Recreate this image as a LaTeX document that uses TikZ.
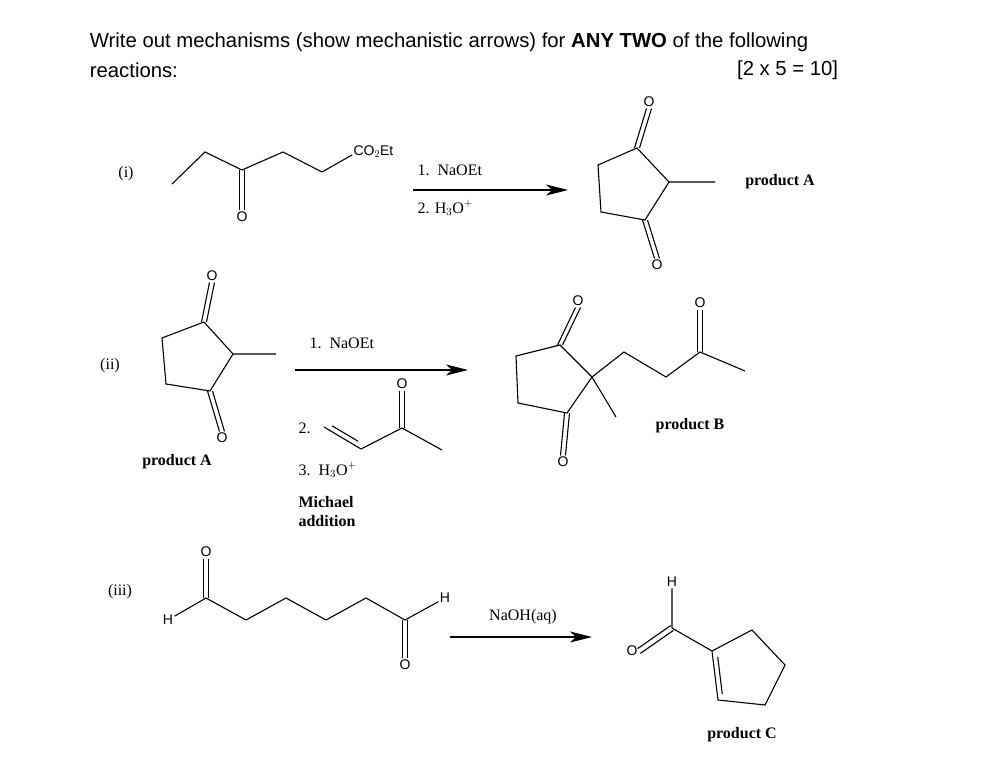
\documentclass[tikz,border=0pt]{standalone}
\usepackage{fontspec}
\setmainfont{Liberation Serif}
\newfontfamily\arial{Liberation Sans}
\usetikzlibrary{arrows.meta,calc}
\begin{document}
\begin{tikzpicture}[x=1pt,y=-1pt,line width=1.1pt,
  atom/.style={font=\arial\fontsize{14}{14}\selectfont,inner sep=1pt,fill=white},
  lbl/.style={font=\fontsize{16}{16}\selectfont,inner sep=1pt},
  blbl/.style={font=\bfseries\fontsize{16}{16}\selectfont,inner sep=1pt},
  rxn/.style={line width=1.4pt,-{Stealth[length=22pt,width=11pt,inset=6pt]}},
  bnd/.style={line width=1.1pt}]
\useasboundingbox (0,0) rectangle (993,759);
\node[anchor=west,font=\arial\fontsize{20.3}{20}\selectfont] (t1) at (86,42) {Write out mechanisms (show mechanistic arrows) for \textbf{ANY TWO} of the following};
\node[anchor=west,font=\arial\fontsize{20.3}{20}\selectfont] (t2) at (86,70) {reactions:};
\node[anchor=east,font=\arial\fontsize{20.3}{20}\selectfont] (t3) at (842,70) {[2 x 5 = 10]};
% (i)
\node[lbl] (l1) at (126,174) {(i)};
\coordinate (a1) at (172,184); \coordinate (a2) at (205,152); \coordinate (a3) at (242,170);
\coordinate (a4) at (283,152); \coordinate (a5) at (322,172); \coordinate (a6) at (352,155);
\node[atom] (aO) at (242,217) {O};
\node[atom,anchor=west,fill=none] (aE) at (352,152) {CO$_2$Et};
\draw[bnd] (a1)--(a2)--(a3)--(a4)--(a5)--(a6);
\draw[bnd] ([xshift=-2.5pt]a3)--([xshift=-2.5pt]aO.north) ([xshift=2.5pt]a3)--([xshift=2.5pt]aO.north);
\coordinate (r1s) at (413,190); \coordinate (r1e) at (568,190);
\draw[rxn] (r1s)--(r1e);
\node[lbl,anchor=west] (n1) at (416,170) {1.\ \ NaOEt};
\node[lbl,anchor=west] (n2) at (416,208) {2. H$_3$O$^+$};
% product A
\coordinate (p1) at (637,148); \coordinate (p2) at (669,182); \coordinate (p3) at (645,220);
\coordinate (p4) at (601,212); \coordinate (p5) at (598,165); \coordinate (pm) at (715,182);
\draw[bnd] (p1)--(p2)--(p3)--(p4)--(p5)--cycle (p2)--(pm);
\node[atom] (pO1) at (649,102) {O};
\node[atom] (pO2) at (657,265) {O};
\draw[bnd] ([xshift=-2.5pt]p1)--([xshift=-2.5pt]pO1.south) ([xshift=2.5pt]p1)--([xshift=2.5pt]pO1.south);
\draw[bnd] ([xshift=-2.5pt]p3)--([xshift=-2.5pt]pO2.north) ([xshift=2.5pt]p3)--([xshift=2.5pt]pO2.north);
\node[blbl] (pa) at (780,182) {product A};
% (ii)
\node[lbl] (l2) at (110,366) {(ii)};
\coordinate (b1) at (204,322); \coordinate (b2) at (233,354); \coordinate (b3) at (210,391);
\coordinate (b4) at (166,384); \coordinate (b5) at (162,338); \coordinate (bm) at (276,354);
\draw[bnd] (b1)--(b2)--(b3)--(b4)--(b5)--cycle (b2)--(bm);
\node[atom] (bO1) at (212,276) {O};
\node[atom] (bO2) at (222,438) {O};
\draw[bnd] ([xshift=-2.5pt]b1)--([xshift=-2.5pt]bO1.south) ([xshift=2.5pt]b1)--([xshift=2.5pt]bO1.south);
\draw[bnd] ([xshift=-2.5pt]b3)--([xshift=-2.5pt]bO2.north) ([xshift=2.5pt]b3)--([xshift=2.5pt]bO2.north);
\node[blbl] (pa2) at (177,462) {product A};
\coordinate (r2s) at (295,370); \coordinate (r2e) at (468,370);
\draw[rxn] (r2s)--(r2e);
\node[lbl,anchor=west] (m1) at (308,343) {1.\ \ NaOEt};
\node[lbl,anchor=west] (m2) at (297,428) {2.};
\coordinate (v1) at (324,427); \coordinate (v2) at (361,449); \coordinate (v3) at (402,428); \coordinate (v4) at (442,450);
\node[atom] (vO) at (402,384) {O};
\draw[bnd] (v1)--(v2)--(v3)--(v4);
\draw[bnd] ($(v1)!0.15!(v2)+(2.5,-4.5)$)--($(v1)!0.85!(v2)+(2.5,-4.5)$);
\draw[bnd] ([xshift=-2.5pt]v3)--([xshift=-2.5pt]vO.south) ([xshift=2.5pt]v3)--([xshift=2.5pt]vO.south);
\node[lbl,anchor=west] (m3) at (297,470) {3.\ \ H$_3$O$^+$};
\node[blbl,anchor=west,align=left] (m4) at (297,512) {Michael\\[3pt]addition};
% product B
\coordinate (c1) at (560,345); \coordinate (c2) at (592,377); \coordinate (c3) at (567,413);
\coordinate (c4) at (518,403); \coordinate (c5) at (516,356); \coordinate (cm) at (616,417);
\coordinate (c6) at (624,352); \coordinate (c7) at (666,377); \coordinate (c8) at (700,352); \coordinate (c9) at (745,371);
\draw[bnd] (c1)--(c2)--(c3)--(c4)--(c5)--cycle (c2)--(cm) (c2)--(c6)--(c7)--(c8)--(c9);
\node[atom] (cO1) at (578,301) {O};
\node[atom] (cO2) at (563,462) {O};
\node[atom] (cO3) at (700,303) {O};
\draw[bnd] ([xshift=-2.5pt]c1)--([xshift=-2.5pt]cO1.south) ([xshift=2.5pt]c1)--([xshift=2.5pt]cO1.south);
\draw[bnd] ([xshift=-2.5pt]c3)--([xshift=-2.5pt]cO2.north) ([xshift=2.5pt]c3)--([xshift=2.5pt]cO2.north);
\draw[bnd] ([xshift=-2.5pt]c8)--([xshift=-2.5pt]cO3.south) ([xshift=2.5pt]c8)--([xshift=2.5pt]cO3.south);
\node[blbl] (pb) at (690,426) {product B};
% (iii)
\node[lbl] (l3) at (120,592) {(iii)};
\coordinate (d1) at (206,598); \coordinate (d2) at (246,620); \coordinate (d3) at (286,598);
\coordinate (d4) at (326,620); \coordinate (d5) at (366,598); \coordinate (d6) at (405,620);
\node[atom] (dH1) at (168,620) {H};
\node[atom] (dH2) at (445,598) {H};
\node[atom] (dO1) at (206,552) {O};
\node[atom] (dO2) at (405,665) {O};
\draw[bnd] (dH1)--(d1)--(d2)--(d3)--(d4)--(d5)--(d6)--(dH2);
\draw[bnd] ([xshift=-2.5pt]d1)--([xshift=-2.5pt]dO1.south) ([xshift=2.5pt]d1)--([xshift=2.5pt]dO1.south);
\draw[bnd] ([xshift=-2.5pt]d6)--([xshift=-2.5pt]dO2.north) ([xshift=2.5pt]d6)--([xshift=2.5pt]dO2.north);
\coordinate (r3s) at (450,637); \coordinate (r3e) at (592,637);
\draw[rxn] (r3s)--(r3e);
\node[lbl] (nh) at (523,617) {NaOH(aq)};
% product C
\node[atom] (eH) at (672,582) {H};
\coordinate (e0) at (672,628);
\node[atom] (eO) at (632,651) {O};
\coordinate (e1) at (712,651); \coordinate (e2) at (752,630); \coordinate (e3) at (785,665);
\coordinate (e4) at (765,705); \coordinate (e5) at (718,700);
\draw[bnd] (eH)--(e0)--(e1) (e1)--(e2)--(e3)--(e4)--(e5)--cycle;
\draw[bnd] ($(e0)+(-1.4,-2.4)$)--($(eO.east)+(-1.4,-2.4)$) ($(e0)+(1.4,2.4)$)--($(eO.east)+(1.4,2.4)$);
\draw[bnd] ($(e1)!0.12!(e5)+(5,0)$)--($(e1)!0.88!(e5)+(5,0)$);
\node[blbl] (pc) at (742,735) {product C};
\end{tikzpicture}
\end{document}
